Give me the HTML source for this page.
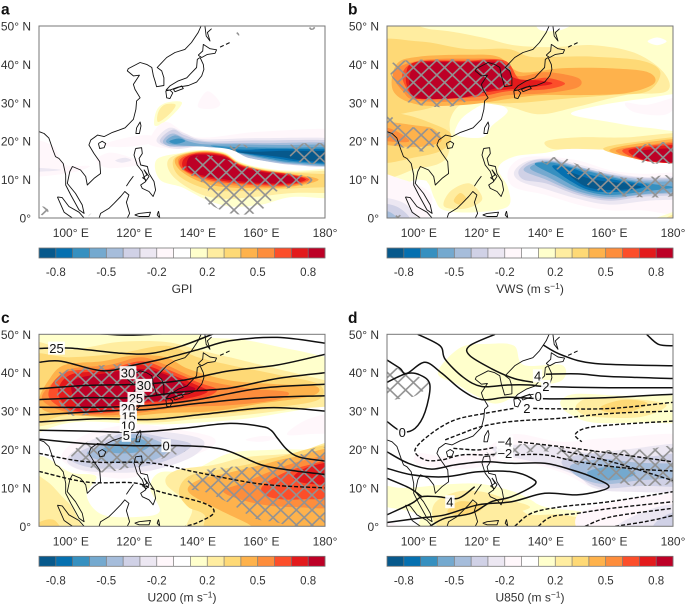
<!DOCTYPE html>
<html lang="en">
<head>
<meta charset="utf-8">
<title>GPI, VWS, U200 and U850 anomaly maps</title>
<style>
html,body{margin:0;padding:0;background:#fff;width:685px;height:606px;overflow:hidden}
svg{display:block;font-family:"Liberation Sans",sans-serif}
</style>
</head>
<body>
<svg id="chart" xmlns="http://www.w3.org/2000/svg" width="685" height="606" viewBox="0 0 685 606">
<defs>
<pattern id="hatch" patternUnits="userSpaceOnUse" width="15.6" height="15">
<path d="M0 0L15.6 15M15.6 0L0 15" stroke="#929292" stroke-width="1.6" fill="none"/>
</pattern>
</defs>
</svg>
<script>
// ---------- Shared data ----------
const levelColors = ['#07598c','#0570b0','#3690c0','#74a9cf','#a6bddb','#d0d1e6','#ece7f2','#fff7fb','#ffffff','#ffffcc','#ffeda0','#fed976','#feb24c','#fd8d3c','#fc4e2a','#e31a1c','#bd0026'];
const colorbarTickLabels = ['-0.8','-0.5','-0.2','0.2','0.5','0.8'];
const colorbarTickBoundaries = [1,4,7,10,13,16];
const lonTicks = [100,120,140,160,180];
const lonTickLabels = ['100° E','120° E','140° E','160° E','180°'];
const latTicks = [0,10,20,30,40,50];
const latTickLabels = ['0°','10° N','20° N','30° N','40° N','50° N'];

// ---------- Coastlines (lon, lat) ----------
const coastMainland = [[141,50],[140.1,48.3],[138,45.7],[135.9,43.9],[132.8,43.1],[130.2,41.8],[128.1,40],[127.2,39.2],[128.6,38.3],[129.3,36.5],[129.3,34.5],[127,34.2],[126.5,35.7],[126,37],[125.5,39.2],[123.9,40],[121.8,40.5],[118.1,38.9],[117.8,38.3],[119.7,37],[121.6,37.2],[119.7,34.8],[120.2,33.5],[121.8,31.3],[120.7,30.5],[120.5,28.3],[119.7,25.7],[117.1,23.5],[115.2,22.9],[113.1,22.3],[110.5,21.2],[108.4,21.6],[106.3,20.3],[105.7,19],[107.3,16.8],[109.1,14.7],[109.4,11.6],[107.3,10.3],[105.2,8.6],[104.7,10.8],[103.1,12.5],[100.5,13.4],[99.7,12.1],[98.9,9],[101.5,6.4],[103.6,3.4],[104.2,1.2],[102.6,2.1],[100,6],[98.4,8.6],[98.4,11.2],[97.6,14.2],[96.3,15.5],[95.2,16],[94.4,17.7],[93.1,20.8],[91.6,22],[90,22.5]];
const coastHainan = [[108.7,19.4],[109.9,20],[111,19.4],[110.5,18.3],[109.1,18.1],[108.7,19.4]];
const coastTaiwan = [[120.7,23.5],[121.8,25],[122.1,24],[121.6,22],[120.5,22],[120.7,23.5]];
const coastSumatra = [[95.8,5.5],[97.3,5.3],[99.4,3],[102.6,1.5],[104.2,0],[100.5,0],[97.9,1.5],[95.8,5.5]];
const coastBorneo = [[108.9,0],[109.4,1.2],[112,2.5],[113.6,3.8],[115.7,5.6],[117,6.9],[118.3,6],[117.5,4.1],[118.5,1.2],[117.8,0]];
const coastPalawan = [[117.5,8.3],[118.6,9.7],[119.7,10.9]];
const coastPhilippines = [[120.4,18.1],[122.3,18.3],[122.5,16.8],[121.5,15.5],[122,13.8],[124.1,13.4],[124.6,11.6],[126.2,9.5],[126.7,7.3],[125.9,5.6],[124.6,6.9],[122.5,7.7],[122,8.6],[123.6,9.5],[122.5,12.1],[120.9,13.8],[119.9,16.4],[120.4,18.1]];
const coastVisayas = [[123,12.6],[124,11.2],[122.6,10.5],[123.8,9.8],[124.6,10.8],[123,12.6]];
const coastSulawesi = [[120.1,.8],[121.5,1.2],[125.1,1.5],[124.6,.4],[121.5,.4],[120.1,.8]];
const coastHalmahera = [[127.6,1.8],[128,0],[127.2,.8],[127.6,1.8]];
const coastSakhalin = [[142.2,50],[142.6,47.4],[143.8,46.1],[143,48.3],[144.3,49.3]];
const coastHokkaido = [[140.1,42.4],[141.5,43.5],[141.7,45.2],[143.8,44.1],[145.9,43.8],[145.4,42.9],[143,42.6],[141.2,41.8],[140.1,42.4]];
const coastHonshu = [[140.7,41.8],[141.7,40],[141.9,38.7],[141.2,37],[139.6,35.4],[137,34.5],[133.8,34.1],[131.2,33.3],[130,33.3],[131.2,34.4],[133.8,35.7],[136.5,36.5],[137.5,37.4],[139.6,39.2],[139.8,41.3],[140.7,41.8]];
const coastKyushu = [[129.9,33.1],[130.2,31.3],[131.2,31.1],[132.1,32.6],[131.2,33.3],[129.9,33.1]];
const coastShikoku = [[132.3,33.5],[134.9,34.4],[135.4,33.7],[132.8,32.9],[132.3,33.5]];
const coastKurils = [[147,44.5],[150.6,45.9]];
const coastLines = [coastMainland,coastHainan,coastTaiwan,coastSumatra,coastBorneo,coastPalawan,coastPhilippines,coastVisayas,coastSulawesi,coastHalmahera,coastSakhalin,coastHokkaido,coastHonshu,coastKyushu,coastShikoku];

// ---------- Panel a : GPI (level index, outline in lon/lat) ----------
const fillsA = [
[7,[[140,29],[143,33],[147,30],[145,28.5]]],
[7,[[85,11.5],[98,11.5],[106,13.5],[98,14],[94,19],[85,20]]],
[6,[[85,12],[97,12.5],[85,13.2]]],
[7,[[110,19],[118,21],[125,21.5],[125,19.5],[117,18.5]]],
[7,[[108,15],[112,17],[118,16],[122,14],[112,13]]],
[6,[[114,15],[117,15.7],[119,15],[116,14.4]]],
[9,[[126.5,24],[131,26],[135,30],[130,30],[127,28]]],
[10,[[127.5,25],[131,27],[133,29.5],[129.5,29.5],[127.5,27.5]]],
[7,[[125,21],[130,25],[140,21],[160,22.5],[187,22.5],[187,13.8],[170,14.8],[160,15.8],[150,17.8],[142,19],[133,18],[125,19]]],
[6,[[127,20],[131,23.5],[136,22],[142,20.5],[160,20.8],[187,20.2],[187,13.6],[170,14.1],[160,15.3],[150,17.2],[142,18.7],[133,18]]],
[5,[[128,20],[132,23],[136,21.5],[143,20],[160,20.2],[187,19.7],[187,13.5],[170,13.8],[160,15],[150,16.8],[142,18.6],[133,18.5]]],
[4,[[129,20],[132,22],[137,20.5],[145,19.6],[160,19.5],[187,19.2],[187,13.7],[170,14],[160,15],[150,16.8],[143,18.5],[135,18.7],[131,18.7]]],
[3,[[130,20],[133,21.5],[137,20],[142,19.2],[150,19.2],[165,19],[187,18.7],[187,13.8],[170,14.2],[160,15.5],[152,17],[145,18.4],[133,19]]],
[2,[[131,20],[134,20.7],[136,20],[133,19.3]]],
[2,[[144,18.8],[152,18.5],[165,18.3],[187,18],[187,14],[170,14.5],[162,15.5],[152,17.2]]],
[1,[[148,18],[155,17.8],[165,18],[187,17.5],[187,14.2],[172,14.7],[165,15.5],[155,16.8]]],
[0,[[152,17.2],[160,17.3],[170,17.5],[187,17],[187,14.5],[173,15],[165,16]]],
[8,[[126,15.5],[135,17.8],[142,18.4],[150,17.9],[155,15.9],[160,14.6],[170,13.4],[187,13.3],[187,12],[170,12],[160,13],[150,16],[140,17],[127,15]]],
[9,[[127,15.2],[135,17],[140,17.7],[148,17.2],[153,14.7],[160,13.1],[170,12.3],[187,12.5],[187,5.5],[170,5.5],[160,3.5],[150,3],[142,5],[135,8],[128,10]]],
[10,[[131,15.5],[140,17.5],[148,17],[153,14.5],[160,12.9],[170,12],[187,12],[187,7],[170,6.5],[158,5.5],[148,5],[140,6.5],[132,11]]],
[11,[[132.5,15.5],[140,17.4],[148,16.8],[153,14.3],[160,12.7],[170,11.8],[187,11],[187,8.5],[170,7.7],[154,7],[143,7.5],[134,11]]],
[12,[[133,15.5],[140,17.3],[148,16.7],[153,14.2],[160,12.6],[168,11.7],[178,10],[168,8],[154,7.8],[143,8.8],[135,12]]],
[13,[[134,15.5],[140,17.2],[148,16.6],[153,14.1],[160,12.5],[168,11.6],[176,10],[168,8.2],[154,8.3],[143,9.6],[135.5,12.3]]],
[14,[[134.5,15.3],[140,17],[148,16.5],[153,14],[160,12.4],[168,11.5],[175,10],[167,8.4],[154,8.8],[143,10],[135.5,12.5]]],
[15,[[135.5,15.3],[140,16.8],[148,16.3],[153,13.8],[160,12.3],[168,11.4],[174,10],[167,8.7],[154,9.1],[143,10.4],[136,12.5]]],
[16,[[137,15.5],[140,16.5],[148,16],[153,13.5],[160,12],[167,11.2],[172,10],[167,9],[154,9.5],[143,10.8],[137,12.5]]]
];
const hatchA = [
[[133,14],[137,13.5],[141,16.5],[150,15],[160,12.5],[174,11],[175,9],[165,7],[163,4.5],[158,1.2],[150,1.2],[145,3],[142,4.5],[143,8],[137,11.5]],
[[150,18],[151,19.2],[156,18.8],[153,17.3]],
[[167,18],[170,19.2],[180,19.2],[180,14.5],[172,14.5],[168,17]],
[[90.5,1],[91,3],[93,2],[92,.8]],
[[151.5,47],[152.5,48.5],[153,47.5]],
[[174.5,49],[176,50],[177,49.2]],
[[105.5,.3],[106.5,1.2],[107.5,.3]]
];

// ---------- Panel b : VWS ----------
const fillsB = [
[9,[[85,55],[187,55],[187,17],[165,17.5],[150,18.5],[140,17],[130,16],[125,13],[128,8],[128,3],[118,1.5],[108,2],[105,5],[103,9],[100,10],[85,11]]],
[8,[[148,27],[160,25],[172,23.5],[187,23],[187,32],[170,31],[155,29]]],
[8,[[112,21.5],[120,21],[123,24],[128,28],[122,30],[115,27],[112,24]]],
[8,[[172,46],[175,47],[178,46],[175,45]]],
[8,[[138,49],[145,49],[150,52],[138,52]]],
[10,[[85,49],[105,49],[120,47],[130,45],[142,44.5],[155,45],[168,43],[177,38],[178,33],[165,32],[150,29],[138,27],[128,29],[115,30],[110,26],[110,20],[108,15],[100,13],[85,13]]],
[10,[[140,20],[150,21],[165,21],[187,22],[187,16],[165,17.5],[150,18],[142,18]]],
[10,[[108,3],[115,2.5],[120,5],[116,9],[110,7]]],
[11,[[85,45],[100,46],[115,44],[128,44],[135,42],[145,42],[155,42],[170,41],[176,38],[172,33],[160,32],[145,31],[132,30],[122,30],[115,31.5],[100,28],[85,28]]],
[11,[[85,28],[95,27],[103,25],[110,22],[108,18],[100,16],[85,15]]],
[11,[[111,4.5],[113,6.5],[115,5],[113,3.5]]],
[11,[[158,18],[170,20],[187,21],[187,15],[170,15.5]]],
[12,[[93,40],[100,42],[115,42.5],[125,42],[132,38],[145,39],[160,39],[172,38],[174,35],[165,32.5],[150,32],[138,32],[128,31],[115,29.5],[100,29.5],[92,33]]],
[12,[[85,25],[100,24],[105,23],[107,20],[100,18.5],[90,19],[85,20]]],
[12,[[160,17.5],[170,19.5],[187,20.5],[187,15],[172,15]]],
[13,[[92,38],[100,41],[115,41.5],[127,41],[131,37],[140,38],[150,36.5],[150,34],[140,32.5],[128,32],[118,30.5],[100,30.5],[95,33]]],
[13,[[85,24],[92,23],[97,20],[90,20],[85,21]]],
[13,[[162,17.5],[172,19],[187,20],[187,14.8],[172,14.8]]],
[14,[[95,38],[100,40.8],[115,41],[127,41],[132,36],[140,36.5],[146,35],[140,33.5],[128,33],[118,31.5],[100,31],[96,34]]],
[14,[[164,17.5],[172,18.8],[187,19.5],[187,14.7],[172,14.8]]],
[15,[[96,37],[99,40.6],[115,40.8],[126,40.8],[130,36.5],[138,35.8],[142,35],[135,34],[125,33.2],[115,32],[100,31],[97,33]]],
[15,[[166,17.5],[173,18.5],[187,19],[187,14.6],[172,14.8]]],
[16,[[97,35],[98,39],[102,40.5],[115,40.5],[125,40.5],[129,38],[128,35],[123,33.5],[115,31.5],[103,31],[98,32]]],
[16,[[168,17],[175,18],[187,18],[187,14.6],[172,15]]],
[7,[[165,30],[172,29.5],[182,31.5],[178,27],[168,27.5]]],
[7,[[128,12],[132,15.5],[140,16],[150,15],[160,12.5],[170,11.5],[187,11],[187,1],[170,2],[160,2],[150,3.5],[140,6],[130,8]]],
[6,[[130,12],[134,14.8],[142,15.5],[150,14],[160,12],[170,10.7],[187,10.5],[187,5.5],[172,4.5],[160,3.5],[150,5],[140,7.5],[132,9.5]]],
[5,[[131.5,12.5],[136,15],[143,15],[150,13.5],[160,11.5],[170,10.5],[187,10],[187,6.5],[170,5.5],[160,4.5],[150,6],[140,9],[133,10]]],
[4,[[133,12.5],[138,14.8],[145,14.5],[152,13],[162,11],[172,10],[187,10],[187,7],[170,6],[160,5],[150,6.5],[140,10]]],
[3,[[135,13],[140,14.7],[146,14],[153,12.5],[163,10.5],[172,9.5],[187,9.5],[187,7.3],[172,6.3],[160,5.5],[150,7],[141,10.5]]],
[2,[[136.5,14],[141,14.5],[147,13.5],[154,12],[164,10],[172,9],[180,8],[172,7],[160,6],[151,7.5],[143,11]]],
[1,[[142,13.5],[148,13],[155,11],[165,9.5],[172,8.5],[165,7],[155,7],[148,9.5]]],
[0,[[147,12],[155,10],[165,9],[170,8],[162,7.3],[154,7.8],[149,10]]],
[7,[[85,11],[95,10],[103,7],[104,3],[100,-2],[85,-2]]],
[6,[[85,5],[95,4],[99,-1],[85,-2]]],
[5,[[85,3.5],[93,3],[97,-1],[85,-2]]],
[4,[[85,2],[91,1.5],[93,-1],[85,-2]]],
[9,[[170,-2],[178,1],[187,3],[187,-2]]],
[10,[[176,-2],[180,1],[187,1.5],[187,-2]]]
];
const hatchB = [
[[91,38],[95,41],[125,41],[129,38],[128,34],[122,33],[110,29],[97,30],[95,33]],
[[89,28],[92,26],[95,24],[105,23],[107,21],[103,17.5],[97,18],[89,20.5]],
[[167,17],[170,19],[181,19.5],[181,14.5],[170,14.5]],
[[139,15],[145,16],[150,14],[165,10.5],[181,11],[181,6],[166,5.5],[157,7],[148,11],[140,14]],
[[92.5,.2],[93.5,1],[95,.2]]
];

// ---------- Panel c : U200 ----------
const fillsC = [
[9,[[85,55],[187,55],[187,-3],[85,-3]]],
[8,[[140,53],[142,49.5],[155,48.5],[170,46],[187,44],[187,53]]],
[8,[[85,22],[100,27],[125,26.5],[140,27],[155,28],[170,30],[187,32],[187,21],[165,20],[150,19],[138,14.5],[128,14],[125,10],[128,4],[122,2.5],[110,3],[105,8],[108,13],[100,14],[92,18],[85,19]]],
[10,[[85,47],[100,46],[115,48],[130,48],[140,46],[150,44],[165,41],[180,38],[187,36],[187,32],[170,30.5],[155,29],[140,28],[125,27],[105,28],[90,26],[85,26]]],
[11,[[85,44],[100,44],[115,45],[130,47],[140,44],[150,42],[165,39.5],[178,37],[178,33],[165,31],[150,29.5],[135,28.5],[120,27.5],[100,29],[90,27],[85,28]]],
[12,[[90,33],[93,38],[98,42],[110,43],[120,44.5],[130,44],[137,41],[150,38],[165,37],[177,36.5],[176,34],[160,32],[145,30],[130,29.5],[115,28.5],[100,29],[92,30]]],
[13,[[91,33],[95,38],[100,41],[112,42],[122,44],[130,42],[140,38.5],[155,36],[168,35],[165,33],[150,31.5],[135,31],[115,29],[100,29.5]]],
[14,[[93,34],[98,40],[112,41],[122,43],[130,41],[140,37.5],[146,35.5],[140,33],[125,31.5],[112,29.5],[100,30]]],
[15,[[96,35],[100,39.5],[112,40.5],[122,42],[130,40],[139,37],[143,35],[135,33],[122,32],[110,30],[100,30.5]]],
[16,[[101,33],[101,38],[112,40],[122,41],[130,39.5],[136,37],[139,35.5],[130,33],[122,32.5],[110,31],[103,31]]],
[10,[[130,11],[133,14.5],[145,16],[155,18],[170,19],[187,21],[187,-3],[140,-3],[138,5]]],
[11,[[134,9],[137,13],[145,14.5],[155,16],[165,18],[187,20],[187,-3],[146,-3],[142,3],[137,5]]],
[12,[[137,9],[140,12],[150,14],[160,16],[170,18],[187,19.5],[187,1],[165,-3],[155,1],[145,5]]],
[13,[[148,9],[155,11.5],[165,15],[175,17.5],[187,18.5],[187,6],[170,5],[158,6]]],
[14,[[160,10],[166,13.5],[175,16],[187,17.5],[187,8.5],[172,7],[163,7.5]]],
[15,[[170,12.5],[175,15.5],[187,17],[187,11.5],[176,11]]],
[10,[[85,14],[92,12],[97,8],[101,4],[103,-3],[85,-3]]],
[11,[[90,1],[95,1.5],[97,-3],[85,-3]]],
[7,[[97,18],[105,24],[120,26.5],[135,25],[145,23],[143,20],[130,16],[118,12.5],[105,14]]],
[6,[[99,18],[108,23],[120,25],[135,24],[142,22],[138,18],[125,14.5],[112,14],[102,15]]],
[5,[[100,18],[110,22],[118,24.5],[130,23],[138,21],[128,16.5],[115,15],[105,15.5]]],
[4,[[105,19],[113,22],[120,24],[128,22],[131,20],[125,17],[113,16.5]]],
[3,[[110,20],[115,22],[120,23],[125,21.5],[122,19.5],[115,19]]],
[7,[[155,22.5],[160,23.5],[165,23],[160,22]]],
[7,[[168,24],[175,28],[187,30],[187,25],[175,24]]]
];
const hatchC = [
[[95,38],[100,41],[122,42.5],[130,41],[135,37],[135,34],[125,32],[105,29],[98,30]],
[[100,18.5],[103,21],[112,24],[125,23],[136,20],[130,18],[122,16],[110,14],[105,16]],
[[136,10],[140,14],[150,15.5],[160,15.5],[170,18],[181,19.5],[181,-1],[172,-1],[165,1],[158,2],[150,6],[142,9]]
];
const contoursSolidC = [
[[90,46.3],[100,46.4],[115,45.1],[125,45],[135,47],[146,50.5]],
[[108,50.2],[118,49.8],[130,50.2]],
[[90,42.7],[97,43],[110,40.5],[120,42],[130,43.8],[140,46],[150,48.3],[165,49.2],[180,47.7]],
[[90,35.8],[105,36.7],[122,37],[135,38],[150,40.5],[165,42],[180,44.8]],
[[90,33],[105,33.5],[120,33.5],[135,35],[150,36],[165,38.5],[180,40]],
[[90,31],[110,31],[125,31.5],[140,33],[160,36],[180,37]],
[[90,29],[110,30],[125,30.5],[140,32],[160,33.5],[180,34]],
[[90,27.2],[110,28],[125,27.8],[140,29],[160,30.8],[170,30.7],[180,30]],
[[90,25],[105,24.8],[120,24.5],[135,25.5],[150,26.8],[160,26],[163,25],[165,23],[168,20],[172,18],[180,17]],
[[90,22.7],[105,21.5],[120,21],[135,21],[148,20],[160,16],[170,14.5],[180,13.5]]
];
const contoursDashedC = [
[[90,19],[105,16.8],[125,16.5],[140,14],[160,11],[180,10]],
[[90,14.3],[105,11.5],[120,11.3],[128,9],[142,6],[145,3.5],[140,1],[136,0]]
];
const contourLabelTextC = ['25','30','30','25','20','15','10','5','0'];
const contourLabelLonC = [95.5,118,123,120.5,118,118.2,118,117.5,130];
const contourLabelLatC = [46.4,40,36.7,33.3,30.7,28.5,26.2,23.7,21];

// ---------- Panel d : U850 ----------
const fillsD = [
[9,[[106,40],[113,46.5],[122,47.5],[130,47],[133,42],[145,42],[145,38],[135,36],[125,32],[118,34],[112,37]]],
[9,[[145,33],[150,34.5],[165,34],[187,34],[187,27.5],[170,27],[155,27],[148,29],[145,31]]],
[10,[[150,32],[155,33.5],[170,33],[178,31.5],[170,28.5],[155,28.5],[150,30]]],
[11,[[158,31.5],[165,33],[172,32],[165,29.5],[158,30]]],
[7,[[100,19],[110,18],[120,20],[130,24],[145,22],[160,23],[187,23],[187,9],[165,10],[155,10],[145,14],[130,17],[115,15],[100,16]]],
[6,[[125,21],[140,21],[155,19],[165,20],[187,21],[187,10],[165,9],[155,10],[150,13],[140,16],[125,19]]],
[5,[[145,17],[155,19],[170,18],[187,19],[187,11],[170,10.5],[158,10],[150,13]]],
[4,[[148,16],[158,17.5],[170,16.5],[187,16],[187,13],[170,12],[158,11],[150,13]]],
[3,[[153,14],[160,15.5],[168,14],[165,12.5],[158,12]]],
[9,[[85,11],[95,10],[110,11],[120,11],[130,9],[135,7],[140,5],[155,3],[162,-3],[105,-3],[100,3],[90,5],[85,6]]],
[10,[[105,6],[112,9],[120,9],[128,7],[135,5],[128,3],[120,1],[112,-3],[105,1]]],
[10,[[120,3],[130,5],[135,3],[145,3],[155,1],[160,-3],[118,-3]]],
[11,[[109,4],[113,6.5],[120,5.5],[118,3.5],[112,3]]],
[7,[[150,3],[165,7],[175,8],[187,8],[187,-3],[155,-3]]],
[6,[[162,-1],[175,5],[187,5],[187,-3]]],
[5,[[174,-1],[178,3],[187,4],[187,-3]]],
[7,[[85,1],[92,.8],[96,-2],[85,-2]]]
];
const hatchD = [
[[89,34],[89,41.5],[97,40],[103.5,37],[100,34.5],[97,33.5],[91,33]],
[[122,20],[135,21.5],[150,20],[170,20],[181,20.5],[181,12],[170,10.5],[160,12],[150,16],[140,19.5],[125,18]]
];
const contoursSolidD = [
[[90,27.3],[94.6,24.7],[98.8,25.5],[102,29.8],[103.5,36.8],[100.4,39.4],[96.2,39.8],[90,37.5]],
[[90,43.3],[94,41.2],[96.2,39.8],[101.9,42.7],[107.2,39.9],[113.5,35.5],[119.8,33],[128.1,33.6],[139.7,33.2],[158.6,33.5],[180,34.4]],
[[99.7,50],[106.7,47],[108.3,43.5],[114,38.8],[119.8,36.4],[128,36.8],[135,36.8],[140,36.4],[160,36.1],[180,36.1]],
[[124,50],[116,47],[116,44.5],[123,41],[130,38.5],[136,37.5]],
[[140,39.6],[150,39.7],[160,39],[180,38.5]],
[[139.2,47.2],[145,44.6],[155.5,42.4],[180,41.8]],
[[171.7,50],[175.4,47.4],[180,47]],
[[90,19.4],[96.7,16.4],[104,14.9],[111.4,16],[120.8,16.8],[129.2,16.4],[139.7,16.4],[148.1,14.7],[155.5,12.5],[159.7,10.1],[150.2,8.2],[139.7,8.6],[129.2,6.4],[118.7,5.6],[108.3,3],[99.9,2.1],[90,1]],
[[90,15.1],[97.8,13.4],[108.3,12.9],[118.7,14.2],[129.2,14.2],[135.5,12.5],[136.4,10.8],[129.2,7.7],[122.9,6.4],[116.6,3.4],[108.3,2.1],[103.5,0]],
[[90,3],[97.8,6],[101,7.7],[106.2,7.7],[112.4,7.3],[117.6,10.3]],
[[90,12.5],[97,10],[101,7.7]]
];
const contoursDashedD = [
[[129.8,30.7],[120.8,29.4],[111.4,27.7],[104,24.2],[98.8,19.9],[102,17.3],[107.2,17.3],[113.5,18.6],[120.3,18.6],[125,18.8]],
[[136,30.7],[143.9,30.6],[160.7,30.7],[180,32.3]],
[[108.3,22.5],[113,24],[119.8,26],[129.2,27.3],[143.9,28.1],[160.7,29.4],[180,30]],
[[180,27.4],[160.7,26.4],[152.3,25.5],[149.2,23.8],[151.3,22]],
[[110.9,20.3],[118.7,19.9],[124,20.6]],
[[131.3,22],[145,20.7],[160.7,19],[180,16.8]],
[[130.3,18.6],[139.7,18.6],[150.2,16.8],[165.9,15.1],[180,14.4]],
[[145,19.7],[160.7,16.8],[180,11.9]],
[[130.2,0],[135.5,3.4],[145,5.1],[160,6.4],[180,9]],
[[137.6,0],[141.8,2.5],[150.2,3.4],[160.7,4.7],[180,6.4]],
[[152.3,0],[160.7,2.5],[180,4.7]],
[[161.8,0],[171.2,1.2],[180,2.8]]
];
const contourLabelTextD = ['4','2','0','2','−4','−2','4','0'];
const contourLabelLonD = [137.4,140,137.6,134,127.1,127.1,109.8,94.8];
const contourLabelLatD = [39.2,36.4,33.8,30.7,22,19,6.4,24.5];

// ---------- Panel layout ----------
const panels = [
 {id:'a',x:39,y:26,title:'GPI',unit:false,fills:fillsA,hatch:hatchA,solid:[],dashed:[],lt:[],lx:[],ly:[]},
 {id:'b',x:387,y:26,title:'VWS',unit:true,fills:fillsB,hatch:hatchB,solid:[],dashed:[],lt:[],lx:[],ly:[]},
 {id:'c',x:39,y:334.3,title:'U200',unit:true,fills:fillsC,hatch:hatchC,solid:contoursSolidC,dashed:contoursDashedC,lt:contourLabelTextC,lx:contourLabelLonC,ly:contourLabelLatC},
 {id:'d',x:387,y:334.3,title:'U850',unit:true,fills:fillsD,hatch:hatchD,solid:contoursSolidD,dashed:contoursDashedD,lt:contourLabelTextD,lx:contourLabelLonD,ly:contourLabelLatD}
];
const PW = 286, PH = 192, INK = '#333';
const NS = 'http://www.w3.org/2000/svg';
const root = document.getElementById('chart');

function make(tag, attrs, parent) {
  const el = document.createElementNS(NS, tag);
  for (const k in attrs) el.setAttribute(k, attrs[k]);
  parent.appendChild(el);
  return el;
}
function xScale(p, lon) { return p.x + (lon - 90) * PW / 90; }
function yScale(p, lat) { return p.y + PH - lat * PH / 50; }
function smoothPath(p, pts, closed) {
  const q = pts.map(a => [xScale(p, a[0]), yScale(p, a[1])]);
  const n = q.length;
  const at = i => closed ? q[(i + n) % n] : q[Math.max(0, Math.min(n - 1, i))];
  let d = 'M' + q[0][0].toFixed(1) + ' ' + q[0][1].toFixed(1);
  const last = closed ? n : n - 1;
  for (let i = 0; i < last; i++) {
    const a = at(i - 1), b = at(i), c = at(i + 1), e = at(i + 2);
    d += 'C' + (b[0] + (c[0] - a[0]) / 6).toFixed(1) + ' ' + (b[1] + (c[1] - a[1]) / 6).toFixed(1) + ' ' +
         (c[0] - (e[0] - b[0]) / 6).toFixed(1) + ' ' + (c[1] - (e[1] - b[1]) / 6).toFixed(1) + ' ' +
         c[0].toFixed(1) + ' ' + c[1].toFixed(1);
  }
  return d + (closed ? 'Z' : '');
}
function linePath(p, pts) {
  return pts.map((a, i) => (i ? 'L' : 'M') + xScale(p, a[0]).toFixed(1) + ' ' + yScale(p, a[1]).toFixed(1)).join('');
}

const defs = root.querySelector('defs');
panels.forEach(p => {
  const group = make('g', {}, root);
  
  

  const clip = make('clipPath', {id: 'clip-' + p.id}, defs);
  make('rect', {x: p.x, y: p.y, width: PW, height: PH}, clip);

  const letter = make('text', {x: p.x - 38 + (p.id === 'b' || p.id === 'd' ? -1 : 0), y: p.y - 11.5, 'font-size': 15.5, 'font-weight': 700, fill: '#111'}, group);
  letter.textContent = p.id;
  
  

  const plot = make('g', {'clip-path': 'url(#clip-' + p.id + ')'}, group);
  
  

  p.fills.forEach(f => {
    const el = make('path', {d: smoothPath(p, f[1], true), fill: levelColors[f[0]]}, plot);
    
    
  });
  p.hatch.forEach(h => {
    const el = make('path', {d: smoothPath(p, h, true), fill: 'url(#hatch)'}, plot);
    
    
  });
  coastLines.forEach(c => {
    const el = make('path', {d: linePath(p, c), fill: 'none', stroke: '#111', 'stroke-width': .9, 'stroke-linejoin': 'round'}, plot);
    
    
  });
  const kuril = make('path', {d: linePath(p, coastKurils), fill: 'none', stroke: '#111', 'stroke-width': 1.1, 'stroke-dasharray': '4 2.5'}, plot);
  
  

  p.solid.forEach(c => {
    const el = make('path', {d: smoothPath(p, c, false), fill: 'none', stroke: '#111', 'stroke-width': 1.5}, plot);
    
    
  });
  p.dashed.forEach(c => {
    const el = make('path', {d: smoothPath(p, c, false), fill: 'none', stroke: '#111', 'stroke-width': 1.4, 'stroke-dasharray': '4 2'}, plot);
    
    
  });
  p.lt.forEach((t, i) => {
    const cx = xScale(p, p.lx[i]), cy = yScale(p, p.ly[i]);
    const w = t.length * 7.4 + 2;
    const bg = make('rect', {x: cx - w / 2, y: cy - 6.5, width: w, height: 13, fill: '#fff', opacity: .92}, plot);
    
    
    const el = make('text', {x: cx, y: cy + 4.7, 'font-size': 13, 'text-anchor': 'middle', fill: '#111'}, plot);
    el.textContent = t;
    
    
  });

  const frame = make('rect', {x: p.x, y: p.y, width: PW, height: PH, fill: 'none', stroke: '#777', 'stroke-width': 1}, group);
  
  

  lonTicks.forEach((v, i) => {
    const el = make('text', {x: xScale(p, v), y: p.y + PH + 19, 'font-size': 12, 'text-anchor': 'middle', fill: INK}, group);
    el.textContent = lonTickLabels[i];
    
    
  });
  latTicks.forEach((v, i) => {
    const el = make('text', {x: p.x - 8, y: yScale(p, v) + 4.5, 'font-size': 12, 'text-anchor': 'end', fill: INK}, group);
    el.textContent = latTickLabels[i];
    
    
  });

  // Colorbar
  const by = p.y + PH + 30, bh = 10, cw = PW / levelColors.length;
  const bar = make('g', {}, group);
  
  
  levelColors.forEach((c, i) => {
    const el = make('rect', {x: p.x + i * cw, y: by, width: cw + .3, height: bh, fill: c}, bar);
    
    
    if (i) {
      const sep = make('line', {x1: p.x + i * cw, x2: p.x + i * cw, y1: by, y2: by + bh, stroke: '#777', 'stroke-width': .7}, bar);
      
      
    }
  });
  const barFrame = make('rect', {x: p.x, y: by, width: PW, height: bh, fill: 'none', stroke: '#777', 'stroke-width': .8}, bar);
  
  
  colorbarTickLabels.forEach((t, i) => {
    const el = make('text', {x: p.x + colorbarTickBoundaries[i] * cw, y: by + bh + 18, 'font-size': 11.5, 'text-anchor': 'middle', fill: INK}, bar);
    el.textContent = t;
    
    
  });
  const title = make('text', {x: p.x + PW / 2, y: by + bh + 35, 'font-size': 12, 'text-anchor': 'middle', fill: INK}, bar);
  title.textContent = p.unit ? p.title + ' (m s' : p.title;
  if (p.unit) {
    const sup = make('tspan', {dy: -4, 'font-size': 8.5}, title);
    sup.textContent = '−1';
    const close = make('tspan', {dy: 4}, title);
    close.textContent = ')';
  }
  
  
});
</script>
</body>
</html>
